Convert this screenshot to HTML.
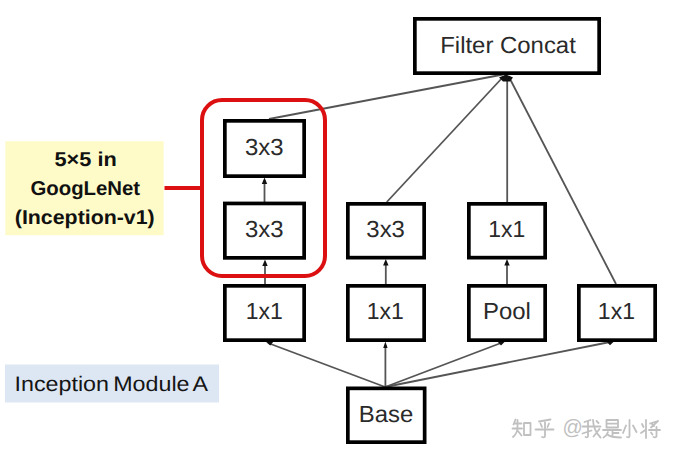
<!DOCTYPE html>
<html><head><meta charset="utf-8">
<style>
html,body{margin:0;padding:0;background:#fff;}
body{width:677px;height:456px;overflow:hidden;position:relative;}
svg{position:absolute;left:0;top:0;}
</style></head>
<body>
<svg width="677" height="456" viewBox="0 0 677 456">
  <rect x="0" y="0" width="677" height="456" fill="#fff"/>
  <!-- yellow label -->
  <rect x="5.3" y="141.2" width="158.4" height="94" fill="#fffbc9"/>
  <!-- blue label -->
  <rect x="5" y="364.5" width="214" height="38" fill="#dde7f3"/>

  <!-- connecting lines -->
  <g stroke="#555" stroke-width="1.8" fill="none">
    <line x1="269" y1="119" x2="503" y2="74.5"/>
    <line x1="386.8" y1="202" x2="503" y2="77"/>
    <line x1="507.2" y1="202" x2="507.2" y2="78"/>
    <line x1="616" y1="284" x2="509.5" y2="78"/>
    <line x1="264.5" y1="202" x2="264.5" y2="180"/>
    <line x1="265" y1="284" x2="265" y2="262"/>
    <line x1="385.8" y1="284" x2="385.8" y2="262"/>
    <line x1="507" y1="284" x2="507" y2="262"/>
    <line x1="385.2" y1="387" x2="268" y2="343"/>
    <line x1="385.4" y1="387" x2="385.4" y2="345"/>
    <line x1="385.2" y1="387" x2="501" y2="343"/>
    <line x1="385.2" y1="387" x2="610" y2="342"/>
  </g>
  <!-- arrowheads -->
  <g fill="#111">
    <path d="M264.5,177.5 L261.8,184 L267.2,184 Z"/>
    <path d="M265,259.5 L262.3,266 L267.7,266 Z"/>
    <path d="M385.8,259 L383.1,265.5 L388.5,265.5 Z"/>
    <path d="M507,259 L504.3,265.5 L509.7,265.5 Z"/>
    <path d="M385.4,341.5 L383.2,348 L387.6,348 Z"/>
    <path d="M265.5,341.5 L273.5,341.5 L270.3,345.6 Z"/>
    <path d="M497.5,341.5 L505,341.5 L501,345.5 Z"/>
    <path d="M606.5,341.5 L614,341.5 L610,345.3 Z"/>
    <path d="M506,74.5 L499,77.5 L503,81.5 L510,81.5 L513,77.5 Z"/>
  </g>

  <!-- red rounded rect -->
  <rect x="202" y="100" width="123" height="176" rx="20" ry="20" fill="none" stroke="#dc1010" stroke-width="4"/>
  <line x1="164.5" y1="188" x2="202" y2="188" stroke="#dc1010" stroke-width="4"/>

  <!-- boxes -->
  <g fill="#fff" stroke="#000" stroke-width="3.7">
    <rect x="414.85" y="18.85" width="184.3" height="54.3"/>
    <rect x="224.85" y="120.85" width="79.3" height="55.3"/>
    <rect x="224.85" y="203.45" width="79.3" height="54.4"/>
    <rect x="224.85" y="285.85" width="79.3" height="54.3"/>
    <rect x="347.85" y="203.85" width="76.3" height="53.8"/>
    <rect x="347.85" y="285.85" width="76.3" height="54.3"/>
    <rect x="468.85" y="203.85" width="76.3" height="53.8"/>
    <rect x="468.85" y="285.85" width="76.3" height="54.3"/>
    <rect x="578.85" y="285.85" width="76.3" height="54.3"/>
    <rect x="347.85" y="388.35" width="76.8" height="53.8"/>
  </g>

  <!-- box labels -->
  <g font-family="Liberation Sans, sans-serif" font-size="23.3" fill="#2a2a2a" text-anchor="middle" text-rendering="geometricPrecision">
    <text transform="matrix(1.0266 0 0 1 -13.5128 0)" x="508" y="53">Filter Concat</text>
    <text transform="matrix(1.0266 0 0 1 -7.0317 0)" x="264.35" y="155">3x3</text>
    <text transform="matrix(1.0266 0 0 1 -7.0317 0)" x="264.35" y="237">3x3</text>
    <text transform="matrix(0.9871 0 0 1 3.4082 0)" x="264.2" y="319.2">1x1</text>
    <text transform="matrix(1.0266 0 0 1 -10.2583 0)" x="385.65" y="237.1">3x3</text>
    <text transform="matrix(0.9871 0 0 1 4.971 0)" x="385.35" y="319.3">1x1</text>
    <text transform="matrix(0.9871 0 0 1 6.5364 0)" x="506.7" y="237.1">1x1</text>
    <text transform="matrix(1.0266 0 0 1 -13.4862 0)" x="507" y="319.3">Pool</text>
    <text transform="matrix(0.9871 0 0 1 7.9516 0)" x="616.4" y="319.3">1x1</text>
    <text transform="matrix(1.0266 0 0 1 -10.2703 0)" x="386.1" y="422">Base</text>
  </g>

  <!-- yellow text -->
  <g font-family="Liberation Sans, sans-serif" font-weight="bold" font-size="20" fill="#111" text-anchor="middle" text-rendering="geometricPrecision">
    <text transform="matrix(1.087 0 0 1 -7.4472 0)" x="85.6" y="166.3">5×5 in</text>
    <text transform="matrix(1.0175 0 0 1 -1.4928 0)" x="85.3" y="194.9">GoogLeNet</text>
    <text transform="matrix(1.067 0 0 1 -5.6782 0)" x="84.75" y="223.7">(Inception-v1)</text>
  </g>

  <!-- blue text -->
  <g font-family="Liberation Sans, sans-serif" font-size="21" fill="#151515" text-rendering="geometricPrecision" word-spacing="-2">
    <text transform="matrix(1.108 0 0 1 -1.566 0)" x="14.5" y="391">Inception Module A</text>
  </g>

  <!-- watermark -->
  <g fill="none" stroke="#c0c0c0" stroke-width="1.8" stroke-linecap="round" stroke-linejoin="round">
    <!-- 知 -->
    <g transform="translate(512.5,419)">
      <path d="M3,0.5 L1,5.5 M1.5,4.5 H9 M0,9.5 H9.5 M5,1 V9.5 Q4.5,14.5 0.5,18 M5.5,12 L9,16.5 M11.5,4 H18 V16 H11.5 Z"/>
    </g>
    <!-- 乎 -->
    <g transform="translate(535.5,419)">
      <path d="M15,0.5 L3.5,2.5 M5,4.5 L6.5,8 M13.5,4.5 L12,8 M0,10.5 H18 M9.5,3 V17 Q9.5,19 6.5,18"/>
    </g>
    <!-- 我 -->
    <g transform="translate(582.5,419.5)">
      <path d="M8,0.5 L2,2.5 M0,7 H18 M5.5,2 V16.5 Q5.5,18.5 3,17.5 M0,14 L9,11 M10.5,0.5 Q11,11 18,18 M17,9.5 L11,17 M14,1.5 L16,3.5"/>
    </g>
    <!-- 是 -->
    <g transform="translate(603,419.5)">
      <path d="M3.5,0.5 H15 V8 H3.5 Z M3.5,4.2 H15 M0,10.5 H18 M9.5,10.5 V17 M9.5,13.5 H15.5 M5,12.5 Q3.5,16.5 0.5,18 M4.5,15 Q8,18 18,18"/>
    </g>
    <!-- 小 -->
    <g transform="translate(622.5,419.5)">
      <path d="M7,0.5 V16.5 Q7,18.5 4.5,17.5 M3.5,6 L0.5,13.5 M10.5,6 L14,12.5"/>
    </g>
    <!-- 将 -->
    <g transform="translate(641,419.5)">
      <path d="M5,0.5 V18.5 M1,4.5 L2.5,7.5 M0,13.5 L5,10 M9,4 L17,1.5 M17,1.5 L10,8 M11,4.5 L13,6.5 M8,10.5 H19 M15.5,7.5 V16.5 Q15.5,18.5 12.5,17.5 M10,13 L11.5,15"/>
    </g>
  </g>
  <g font-family="Liberation Sans, sans-serif" font-size="20" fill="#c0c0c0">
    <text x="562.5" y="434">@</text>
  </g>
</svg>
</body></html>
